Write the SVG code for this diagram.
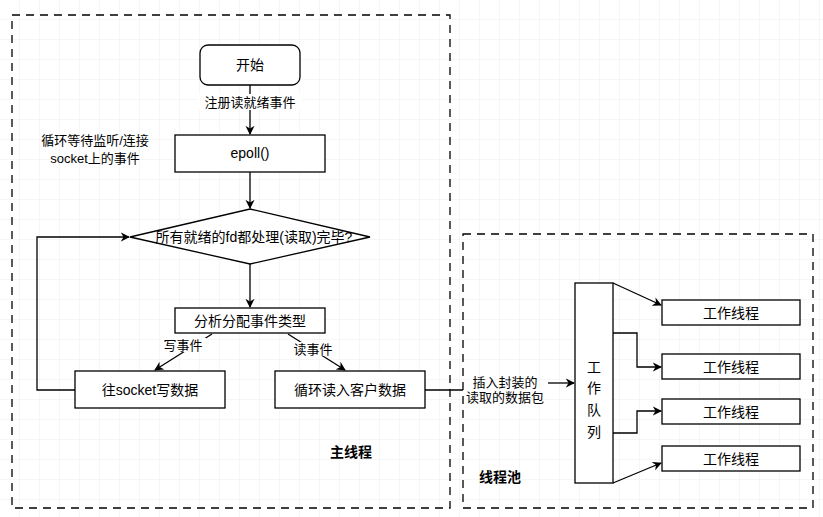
<svg xmlns="http://www.w3.org/2000/svg" width="823" height="517" viewBox="0 0 823 517">
<style>
text{font-family:"Liberation Sans","Noto Sans CJK SC",sans-serif;font-size:14px;fill:#000;text-anchor:middle;dominant-baseline:central}
.s{font-size:13px}
.b{font-weight:bold}
.n{fill:#fff;stroke:#000;stroke-width:1.3}
.c{fill:none;stroke:#000;stroke-width:1.3}
.d{fill:none;stroke:#000;stroke-width:1.3;stroke-dasharray:8 6}
</style>
<defs>
<pattern id="g" width="20" height="20" patternUnits="userSpaceOnUse"><path d="M20 0V20H0" fill="none" stroke="#ececec" stroke-width="1"/></pattern>
<marker id="a" viewBox="0 0 10 10" refX="9" refY="5" markerWidth="7" markerHeight="7" orient="auto"><path d="M0 0L10 5L0 10L3 5Z" fill="#000"/></marker>
</defs>
<rect width="823" height="517" fill="#fff"/>
<rect width="823" height="517" fill="url(#g)"/>
<g id="main"><rect class="d" x="12" y="15" width="438" height="493"/><text class="b" x="351" y="452">主线程</text></g>
<g id="pool"><rect class="d" x="463" y="234" width="350" height="274"/><text class="b" x="500" y="477">线程池</text></g>
<g id="connectors">
<path class="c" d="M250 85V134" marker-end="url(#a)"/>
<path class="c" d="M250 172V208" marker-end="url(#a)"/>
<path class="c" d="M250 264V307" marker-end="url(#a)"/>
<path class="c" d="M212 334L155 370" marker-end="url(#a)"/>
<path class="c" d="M288 334L345 370" marker-end="url(#a)"/>
<path class="c" d="M75 390H37V237H129" marker-end="url(#a)"/>
<path class="c" d="M425 390H463"/>
<path class="c" d="M548 383H574" marker-end="url(#a)"/>
<path class="c" d="M613 283L661 305" marker-end="url(#a)"/>
<path class="c" d="M613 333H637V367H661" marker-end="url(#a)"/>
<path class="c" d="M613 433H637V411H661" marker-end="url(#a)"/>
<path class="c" d="M613 483L661 463" marker-end="url(#a)"/>
<rect x="198" y="94" width="104" height="16" fill="#fff"/>
<text class="s" x="250" y="102">注册读就绪事件</text>
<rect x="160" y="338" width="46" height="14" fill="#fff"/>
<text class="s" x="183" y="345">写事件</text>
<rect x="290" y="342" width="46" height="14" fill="#fff"/>
<text class="s" x="313" y="349">读事件</text>
<text class="s" x="505" y="382">插入封装的</text>
<text class="s" x="505" y="397">读取的数据包</text>
</g>
<text class="s" x="95" y="140">循环等待监听/连接</text>
<text class="s" x="95" y="158">socket上的事件</text>
<g id="start"><rect class="n" x="200" y="45" width="100" height="40" rx="8"/><text x="250" y="65">开始</text></g>
<g id="epoll"><rect class="n" x="175" y="135" width="150" height="37"/><text x="250" y="153">epoll()</text></g>
<g id="decision"><path class="n" d="M250 209L370 237L250 264L130 237Z"/><text x="254" y="237">所有就绪的fd都处理(读取)完毕?</text></g>
<g id="dispatch"><rect class="n" x="175" y="308" width="150" height="25"/><text x="250" y="321">分析分配事件类型</text></g>
<g id="write"><rect class="n" x="75" y="371" width="150" height="37"/><text x="150" y="390">往socket写数据</text></g>
<g id="read"><rect class="n" x="275" y="371" width="150" height="37"/><text x="350" y="390">循环读入客户数据</text></g>
<g id="queue"><rect class="n" x="575" y="283" width="38" height="200"/><text x="594" y="367">工</text><text x="594" y="388">作</text><text x="594" y="410">队</text><text x="594" y="432">列</text></g>
<g id="w1"><rect class="n" x="662" y="300" width="138" height="25"/><text x="731" y="313">工作线程</text></g>
<g id="w2"><rect class="n" x="662" y="354" width="138" height="25"/><text x="731" y="367">工作线程</text></g>
<g id="w3"><rect class="n" x="662" y="399" width="138" height="25"/><text x="731" y="412">工作线程</text></g>
<g id="w4"><rect class="n" x="662" y="446" width="138" height="25"/><text x="731" y="459">工作线程</text></g>
</svg>
